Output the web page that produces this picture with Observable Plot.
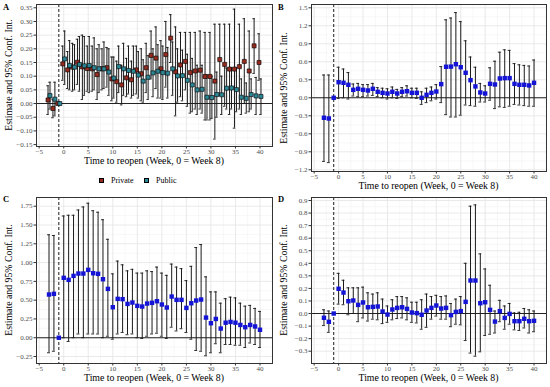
<!DOCTYPE html>
<html><head><meta charset="utf-8">
<script src="https://cdn.jsdelivr.net/npm/d3@7"></script>
<script src="https://cdn.jsdelivr.net/npm/@observablehq/plot@0.6"></script>
<style>
body{margin:0;background:#fff}
#wrap{position:relative;width:550px;height:387px;overflow:hidden;font-family:"Liberation Serif","Times New Roman",serif}
.panel{position:absolute}
.tag{position:absolute;font-weight:bold;font-size:8.5px;color:#000;line-height:1}
.xt,.yt{position:absolute;white-space:nowrap;font-size:9.8px;line-height:0.8;color:#000}
.xt{transform:translate(-50%,-50%)}
.yt{transform:translate(-50%,-50%) rotate(-90deg)}
.legend{position:absolute;left:0;width:275px;top:176px;display:flex;justify-content:center;align-items:center;font-size:8px;color:#000}
.legend .sw{display:inline-block;width:3.4px;height:3.4px;border:0.7px solid #000;margin:0 7px 0 0}
.legend .it{display:inline-flex;align-items:center;margin:0 5px}
</style>
</head><body><div id="wrap"></div>
<script>
const weeks = [-3,-2,-1,0,1,2,3,4,5,6,7,8,9,10,11,12,13,14,15,16,17,18,19,20,21,22,23,24,25,26,27,28,29,30,31,32,33,34,35,36,37,38,39,40];

// Panel A
const privEst = [0.013,-0.018,0,0.145,0.123,0.133,0.151,0.134,0.128,0.127,0.106,0.127,0.131,0.090,0.080,0.068,0.094,0.087,0.123,0.109,0.131,0.176,0.166,0.127,0.179,0.239,0.116,0.141,0.154,0.113,0.119,0.122,0.099,0.099,0.082,0.161,0.143,0.126,0.126,0.135,0.154,0.119,0.211,0.150];
const privLo  = [-0.040,-0.052,0,0.085,0.055,0.045,0.070,0.015,0.045,0.045,0.015,0.050,0.060,0.010,0.005,-0.005,0.025,0.020,0.035,0.010,0.040,0.090,0.055,0.020,0.060,0.150,-0.045,0.025,0.050,-0.035,-0.020,-0.020,-0.060,-0.060,-0.130,0.030,-0.010,-0.040,-0.090,-0.020,0.000,-0.030,0.110,0.085];
const privHi  = [0.065,0.016,0,0.210,0.190,0.220,0.235,0.250,0.210,0.210,0.200,0.200,0.205,0.170,0.155,0.140,0.165,0.155,0.210,0.200,0.220,0.265,0.280,0.230,0.300,0.325,0.280,0.260,0.260,0.260,0.260,0.265,0.260,0.260,0.290,0.290,0.290,0.290,0.345,0.290,0.310,0.265,0.310,0.255];
const pubEst  = [0.029,0.016,0,0.163,0.139,0.133,0.143,0.138,0.139,0.131,0.127,0.127,0.115,0.093,0.135,0.127,0.121,0.118,0.104,0.082,0.096,0.112,0.118,0.113,0.111,0.127,0.101,0.102,0.085,0.068,0.050,0.052,0.023,0.022,0.033,0.032,0.056,0.057,0.051,0.023,0.019,0.033,0.028,0.026];
const pubLo   = [-0.020,-0.045,0,0.070,0.050,0.050,0.045,0.030,0.040,0.050,0.040,0.055,0.030,0.020,0.040,0.030,0.035,0.030,0.020,0.005,0.015,0.025,0.020,0.015,0.020,0.030,0.005,0.010,-0.010,-0.030,-0.040,-0.035,-0.060,-0.055,-0.050,-0.040,-0.020,-0.020,-0.030,-0.040,-0.035,-0.020,-0.040,-0.040];
const pubHi   = [0.078,0.078,0,0.265,0.230,0.215,0.245,0.245,0.245,0.240,0.215,0.225,0.200,0.170,0.210,0.220,0.210,0.210,0.190,0.160,0.175,0.200,0.215,0.210,0.205,0.225,0.200,0.195,0.180,0.165,0.140,0.140,0.105,0.100,0.115,0.100,0.130,0.130,0.130,0.090,0.075,0.090,0.095,0.090];

// Panel B
const bEst = [-0.333,-0.345,0,0.260,0.250,0.217,0.133,0.150,0.133,0.122,0.150,0.100,0.083,0.072,0.100,0.072,0.100,0.110,0.083,0.083,0.000,0.050,0.083,0.105,0.228,0.517,0.520,0.560,0.510,0.417,0.294,0.190,0.089,0.072,0.233,0.222,0.322,0.328,0.328,0.233,0.217,0.217,0.206,0.250];
const bLo  = [-1.06,-1.08,0,-0.01,0.00,-0.02,0.03,0.02,0.02,0.03,0.04,0.02,0.00,-0.02,0.00,-0.01,0.02,0.03,0.00,-0.01,-0.11,-0.08,-0.05,-0.02,-0.08,-0.28,-0.32,-0.32,-0.29,-0.12,-0.13,-0.14,-0.07,-0.07,-0.04,-0.18,-0.15,-0.16,-0.14,-0.11,-0.12,-0.13,-0.14,-0.14];
const bHi  = [0.38,0.38,0,0.51,0.48,0.42,0.23,0.24,0.22,0.22,0.24,0.17,0.16,0.15,0.18,0.14,0.17,0.20,0.16,0.16,0.10,0.16,0.18,0.22,0.52,1.30,1.33,1.42,1.27,0.95,0.68,0.51,0.24,0.20,0.50,0.61,0.76,0.80,0.79,0.57,0.55,0.54,0.53,0.63];

// Panel C
const cEst = [0.575,0.584,0,0.797,0.770,0.823,0.854,0.854,0.903,0.858,0.850,0.779,0.650,0.406,0.517,0.513,0.450,0.468,0.424,0.415,0.455,0.464,0.486,0.442,0.402,0.548,0.504,0.504,0.397,0.459,0.495,0.508,0.268,0.193,0.250,0.122,0.200,0.210,0.200,0.170,0.140,0.170,0.150,0.106];
const cLo  = [-0.20,-0.18,0,0.00,-0.05,0.00,0.05,0.00,0.05,0.05,0.05,0.00,0.02,-0.02,0.05,0.07,0.04,0.05,0.00,-0.01,0.02,0.05,0.06,0.02,-0.01,0.14,0.09,0.12,0.07,-0.02,-0.17,-0.18,-0.24,-0.20,-0.08,-0.20,-0.09,-0.09,-0.10,-0.10,-0.13,-0.07,-0.09,-0.13];
const cHi  = [1.37,1.36,0,1.62,1.63,1.63,1.70,1.74,1.79,1.69,1.67,1.57,1.31,0.85,1.02,0.97,0.89,0.91,0.86,0.86,0.89,0.88,0.94,0.86,0.83,0.98,0.94,0.92,0.76,0.95,1.20,1.24,0.81,0.61,0.61,0.46,0.52,0.54,0.53,0.46,0.42,0.43,0.39,0.35];

// Panel D
const dEst = [-0.034,-0.066,0,0.197,0.167,0.098,0.104,0.069,0.088,0.050,0.053,0.056,0.016,-0.008,0.032,0.045,0.050,0.037,0.008,0.003,-0.010,0.024,0.045,0.064,0.040,0.045,-0.013,0.013,0.019,0.093,0.263,0.263,0.082,0.090,0.029,-0.064,0.019,-0.035,-0.003,-0.061,-0.061,-0.042,-0.061,-0.058];
const dLo  = [-0.095,-0.150,0,0.075,0.070,-0.010,0.000,-0.065,-0.035,-0.060,-0.045,-0.050,-0.080,-0.070,-0.050,-0.040,-0.035,-0.050,-0.070,-0.075,-0.125,-0.110,-0.045,-0.020,-0.045,-0.045,-0.105,-0.085,-0.090,-0.215,-0.315,-0.340,-0.305,-0.175,-0.165,-0.155,-0.065,-0.125,-0.085,-0.130,-0.135,-0.115,-0.155,-0.145];
const dHi  = [0.030,0.020,0,0.320,0.265,0.205,0.205,0.205,0.210,0.165,0.155,0.165,0.115,0.060,0.110,0.135,0.135,0.125,0.090,0.090,0.110,0.155,0.135,0.145,0.135,0.140,0.080,0.115,0.135,0.400,0.855,0.865,0.475,0.355,0.225,0.020,0.105,0.060,0.080,0.005,0.010,0.040,0.030,0.020];

const xTicks = [-5,0,5,10,15,20,25,30,35,40];
const aTicks = [-0.15,-0.10,-0.05,0,0.05,0.10,0.15,0.20,0.25,0.30,0.35];
const bTicks = [-1.2,-0.9,-0.6,-0.3,0,0.3,0.6,0.9,1.2,1.5];
const cTicks = [-0.25,0,0.25,0.5,0.75,1.0,1.25,1.5,1.75];
const dTicks = [-0.3,-0.2,-0.1,0,0.1,0.2,0.3,0.4,0.5,0.6,0.7,0.8,0.9];
const xLabel = "Time to reopen (Week, 0 = Week 8)";
const yLabel = "Estimate and 95% Conf. Int.";
const groupNames = ["Private","Public"];
const groupColors = ["#972A1E","#2C8796"];
const panelTags = ["A","B","C","D"];

const FONT = '"Liberation Serif","Times New Roman",serif';

function mids(t){const o=[];for(let i=0;i<t.length-1;i++)o.push((t[i]+t[i+1])/2);return o;}

function makePanel(cfg){
  const marks = [];
  const minorX = mids(xTicks).concat([xTicks[xTicks.length-1]+2.5]);
  const minorY = mids(cfg.yTicks);
  marks.push(Plot.ruleX(minorX,{stroke:"#F2F2F2",strokeWidth:0.6}));
  marks.push(Plot.ruleY(minorY,{stroke:"#F2F2F2",strokeWidth:0.6}));
  marks.push(Plot.ruleX(xTicks,{stroke:"#E6E6E6",strokeWidth:0.9}));
  marks.push(Plot.ruleY(cfg.yTicks,{stroke:"#E6E6E6",strokeWidth:0.9}));
  marks.push(Plot.ruleY([0],{stroke:"#222",strokeWidth:1.1}));
  marks.push(Plot.ruleX([-1],{stroke:"#000",strokeWidth:0.9,strokeDasharray:"3,2"}));
  const capW = cfg.capW;
  for(const s of cfg.series){
    const rows = weeks.map((w,i)=>({w:w+s.dx,est:s.est[i],lo:s.lo[i],hi:s.hi[i]}));
    const bars = rows.filter(r=>r.hi!==r.lo);
    marks.push(Plot.ruleX(bars,{x:"w",y1:"lo",y2:"hi",stroke:"#1a1a1a",strokeWidth:1}));
    marks.push(Plot.ruleY(bars,{x1:r=>r.w-capW,x2:r=>r.w+capW,y:"lo",stroke:"#1a1a1a",strokeWidth:0.9}));
    marks.push(Plot.ruleY(bars,{x1:r=>r.w-capW,x2:r=>r.w+capW,y:"hi",stroke:"#1a1a1a",strokeWidth:0.9}));
  }
  for(const s of cfg.series){
    const rows = weeks.map((w,i)=>({w:w+s.dx,est:s.est[i]}));
    marks.push(Plot.dot(rows,{x:"w",y:"est",symbol:"square",r:s.r,fill:s.fill,stroke:s.stroke,strokeWidth:s.sw}));
  }
  marks.push(Plot.frame({stroke:"#333",strokeWidth:1}));
  marks.push(Plot.axisX({ticks:xTicks,tickFormat:d3.format("d"),label:null,tickSize:2.5,tickPadding:0,fontSize:7,stroke:"#333",fill:"#4D4D4D"}));
  marks.push(Plot.axisY({ticks:cfg.yTicks,tickFormat:cfg.fmt,label:null,tickSize:2.5,tickPadding:1.5,fontSize:7,stroke:"#333",fill:"#4D4D4D"}));
  return Plot.plot({
    width:cfg.width,height:cfg.height,
    marginLeft:cfg.mL,marginRight:cfg.mR,marginTop:cfg.mT,marginBottom:cfg.mB,
    style:{fontFamily:FONT,background:"transparent",overflow:"visible"},
    x:{domain:[-5.55,42.55]},
    y:{domain:cfg.yDomain},
    marks
  });
}

const wrap = document.getElementById("wrap");
function addPanel(cfg,left,top){
  const d=document.createElement("div");d.className="panel";d.style.left=left+"px";d.style.top=top+"px";
  d.appendChild(makePanel(cfg));wrap.appendChild(d);
  const fx = left+cfg.mL+(cfg.width-cfg.mL-cfg.mR)/2;
  const fb = top+cfg.height-cfg.mB;
  const xt=document.createElement("div");xt.className="xt";xt.textContent=xLabel;
  xt.style.left=fx+"px";xt.style.top=(fb+14.5)+"px";wrap.appendChild(xt);
  const yt=document.createElement("div");yt.className="yt";yt.textContent=yLabel;
  yt.style.left=(left+8.5)+"px";yt.style.top=(top+cfg.mT+(cfg.height-cfg.mT-cfg.mB)/2)+"px";wrap.appendChild(yt);
}

const blueSeries = (e,l,h)=>[{est:e,lo:l,hi:h,dx:0,fill:"#1414D6",stroke:"none",sw:0,r:2.5}];

addPanel({
  series:[
    {est:privEst,lo:privLo,hi:privHi,dx:-0.2,fill:groupColors[0],stroke:"#000",sw:0.6,r:2.3},
    {est:pubEst,lo:pubLo,hi:pubHi,dx:0.2,fill:groupColors[1],stroke:"#000",sw:0.6,r:2.3}
  ],
  capW:0.25,yDomain:[-0.157,0.362],yTicks:aTicks,fmt:d3.format(".2f"),
  width:275,height:168,mL:36,mR:3,mT:4,mB:22
},0,0);

addPanel({
  series:blueSeries(bEst,bLo,bHi),capW:0.3,
  yDomain:[-1.228,1.555],yTicks:bTicks,fmt:d3.format(".1f"),
  width:275,height:191,mL:36,mR:4,mT:4,mB:20
},275,0);

addPanel({
  series:blueSeries(cEst,cLo,cHi),capW:0.3,
  yDomain:[-0.343,1.866],yTicks:cTicks,fmt:d3.format(".2f"),
  width:275,height:197,mL:36,mR:3,mT:7,mB:24
},0,190);

addPanel({
  series:blueSeries(dEst,dLo,dHi),capW:0.3,
  yDomain:[-0.398,0.924],yTicks:dTicks,fmt:d3.format(".1f"),
  width:275,height:197,mL:36,mR:4,mT:7,mB:24
},275,190);

// legend for panel A
const lg = document.createElement("div");
lg.className="legend";
groupNames.forEach((n,i)=>{
  const it=document.createElement("span");it.className="it";
  const sw=document.createElement("span");sw.className="sw";sw.style.background=groupColors[i];
  const tx=document.createElement("span");tx.textContent=n;
  it.appendChild(sw);it.appendChild(tx);lg.appendChild(it);
});
wrap.appendChild(lg);

// panel tags
const tagPos = [[3,3],[278,3],[3,195],[278,195]];
panelTags.forEach((t,i)=>{
  const d=document.createElement("div");d.className="tag";d.textContent=t;
  d.style.left=tagPos[i][0]+"px";d.style.top=tagPos[i][1]+"px";wrap.appendChild(d);
});
</script>
</body></html>
